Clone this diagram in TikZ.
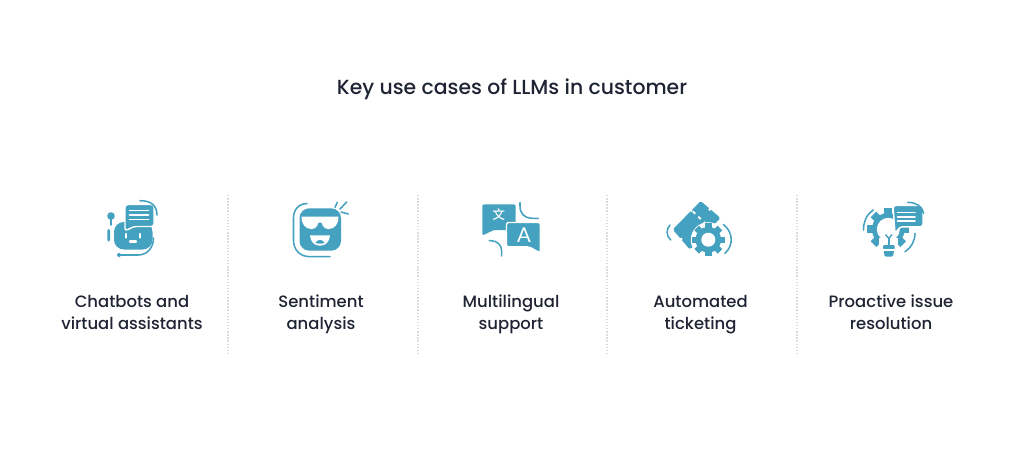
\documentclass[tikz,border=0pt]{standalone}
\usepackage{fontspec}
\setmainfont{Lato}
\newfontfamily\titlefont{Poppins Medium}
\newfontfamily\cjkfont{Noto Sans CJK SC Medium}
\usepackage{tikz}

\definecolor{icon}{HTML}{45A1C0}
\definecolor{ink}{HTML}{1E2433}
\definecolor{divider}{HTML}{DADDE0}

\tikzset{
	heading/.style={text=ink,font=\titlefont\fontsize{14.5}{18}\selectfont},
	caption/.style={text=ink,align=center,font=\titlefont\fontsize{11.7}{15.6}\selectfont,
		execute at begin node=\strut,execute at end node=\strut},
	rule/.style={draw=divider,line width=1pt,dash pattern=on 1pt off 1.2pt},
	arcline/.style={draw=icon,line width=1.1pt,line cap=round},
	solid part/.style={fill=icon},
	cutout/.style={fill=white},
	cutline/.style={draw=white,line width=1.1pt,line cap=round},
	facemark/.style={draw=white,line width=1.7pt,line cap=round},
	outlined/.style={fill=icon,draw=white,line width=1pt}
}

\usetikzlibrary{calc}

% cog: centre, outer radius, tooth half width
\newcommand{\cogwheel}[3]{
	\foreach \a in {0,45,...,315}
		\fill[icon,rotate around={\a:#1}] ($#1+(-#3,-#2)$) rectangle ($#1+(#3,0)$);
	\fill[icon] #1 circle ({#2*0.78});
}

\begin{document}
\begin{tikzpicture}[x=0.025cm,y=-0.025cm]

\useasboundingbox (0,0) rectangle (1024,449);

%Heading
\node[heading] (title) at (512,89) {Key use cases of LLMs in customer};

%Dividers
\coordinate (d1a) at (228,195);
\coordinate (d1b) at (228,355);
\coordinate (d2a) at (418,195);
\coordinate (d2b) at (418,355);
\coordinate (d3a) at (607,195);
\coordinate (d3b) at (607,355);
\coordinate (d4a) at (797,195);
\coordinate (d4b) at (797,355);
\draw[rule] (d1a) -- (d1b);
\draw[rule] (d2a) -- (d2b);
\draw[rule] (d3a) -- (d3b);
\draw[rule] (d4a) -- (d4b);

%Captions
\node[caption] (chatbots) at (132,315.5) {Chatbots and\\virtual assistants};
\node[caption] (sentiment) at (321,315.5) {Sentiment\\analysis};
\node[caption] (multilingual) at (511,315.5) {Multilingual\\support};
\node[caption] (ticketing) at (700.5,315.5) {Automated\\ticketing};
\node[caption] (proactive) at (891,315.5) {Proactive issue\\resolution};

%Icon 1
\draw[arcline] (111,217) -- (111,225);
\fill[solid part] (111,216) circle (3.8);
\fill[solid part,rounded corners=1] (107.3,229) rectangle (110,241.5);
\fill[solid part,rounded corners=7] (114,222) rectangle (152.5,249.5);
\path[outlined,rounded corners=2] (125,231) -- (125,204.5) -- (154,204.5) -- (154,226.5) -- (134,226.5) -- cycle;
\draw[cutline] (129.5,210.5) -- (148.5,210.5);
\draw[cutline] (129.5,215) -- (148.5,215);
\draw[cutline] (129.5,219.5) -- (148.5,219.5);
\draw[facemark] (126,234) -- (126,237.5);
\draw[facemark] (140,234) -- (140,237.5);
\draw[facemark] (130,241.5) -- (136,241.5);
\draw[arcline] (140,200.7) .. controls (150,200.5) and (157,205) .. (157,215);
\fill[solid part] (119,255) circle (2);
\draw[arcline] (119,255) -- (138,255) .. controls (147,255) and (153.5,248) .. (153.5,238);

%Icon 2
\fill[solid part,rounded corners=7] (299.5,208.3) rectangle (341,250.7);
\draw[arcline] (307,203.5) .. controls (298,204) and (293.5,210) .. (293.5,218.3) -- (293.5,240) .. controls (293.5,250) and (300,256.7) .. (310,256.7) -- (330,256.7);
\draw[arcline] (335,207.3) -- (337.3,202.3);
\draw[arcline] (340,209) -- (346.7,202);
\draw[arcline] (341,212) -- (348.3,214);
\fill[cutout] (301.5,216.5) -- (338.5,216.5) .. controls (338.5,224) and (335,229) .. (328.5,229) .. controls (324.5,229) and (322.5,226) .. (321.5,222.5) -- (318.5,222.5) .. controls (317.5,226) and (315.5,229) .. (311.5,229) .. controls (305,229) and (301.5,224) .. (301.5,216.5) -- cycle;
\fill[cutout] (310,235.3) -- (330,235.3) .. controls (329.5,241.5) and (326,245.7) .. (320,245.7) .. controls (314,245.7) and (310.5,241.5) .. (310,235.3) -- cycle;
\fill[solid part] (315.5,242.8) .. controls (317,239) and (323,239) .. (324.5,242.8) .. controls (322,244) and (318,244) .. (315.5,242.8) -- cycle;

%Icon 3
\path[solid part,rounded corners=1] (482.3,204.3) -- (515.7,204.3) -- (515.7,230) -- (494,230) -- (482.3,235.5) -- cycle;
\path[outlined,rounded corners=1.5] (506.5,222.5) -- (540.3,222.5) -- (540.3,253) -- (529,246.8) -- (506.5,246.8) -- cycle;
\node[text=white,font=\cjkfont\fontsize{9}{10}\selectfont,inner sep=0pt] (wen) at (498.7,215) {文};
\node[text=white,font=\fontsize{14.5}{15}\selectfont,inner sep=0pt] (lettera) at (524,235) {A};
\draw[arcline] (520,202.7) -- (520,206) .. controls (520,214) and (525,218.3) .. (532,218.3) -- (538.3,218.3);
\draw[arcline] (489.3,240.7) -- (491,240.7) .. controls (497,240.7) and (501.7,245) .. (501.7,251) -- (501.7,256);

%Icon 4
\path[solid part,rounded corners=1.2] (700.7,201) -- (720.5,218) -- (690,249.7) -- (672.7,229.5) -- cycle;
\draw[white,line width=1.3pt,dash pattern=on 2.5pt off 3pt] (692.7,211.3) -- (706.7,224.7);
\fill[white] (691,210.5) circle (1.5);
\fill[white] (709.5,209.5) circle (1.5);
\fill[white] (681,239) circle (1.5);
\fill[white] (708.3,239.7) circle (17.5);
\cogwheel{(708.3,239.7)}{16.5}{3.2}
\fill[white] (708.3,239.7) circle (7);
\draw[arcline] (670,225) .. controls (666,229) and (666,236) .. (670.7,240);
\draw[arcline] (723.3,224.3) .. controls (733,232) and (734,245) .. (725,253.3);

%Icon 5
\cogwheel{(888.3,229.3)}{21}{4}
\fill[cutout] (888.3,229.3) circle (11.5);
\fill[cutout] (879,238) rectangle (898,262);
\draw[icon,line width=1.2pt] (888.8,245) -- (888.8,236.5);
\draw[icon,line width=1pt] (885.5,234.5) -- (888.8,238.5) -- (892,234.5);
\fill[solid part,rounded corners=1] (882.7,245) -- (895,245) -- (893,256.7) -- (884.7,256.7) -- cycle;
\draw[cutline] (883,250) -- (895,250);
\path[outlined,rounded corners=2] (895,233.5) -- (893,205.5) -- (923,205.5) -- (923,226.8) -- (900,226.8) -- cycle;
\draw[cutline] (897.5,212.5) -- (915,212.5);
\draw[cutline] (897.5,216.8) -- (915,216.8);
\draw[cutline] (897.5,221) -- (915,221);
\draw[arcline] (873.3,210) .. controls (866,215) and (863.5,222) .. (863.5,230);
\draw[arcline] (907.7,202.3) .. controls (916,202.5) and (922,206) .. (923.5,213.3);
\draw[arcline] (915,233.3) .. controls (915,241) and (911,248) .. (905,251.7);

\end{tikzpicture}
\end{document}
